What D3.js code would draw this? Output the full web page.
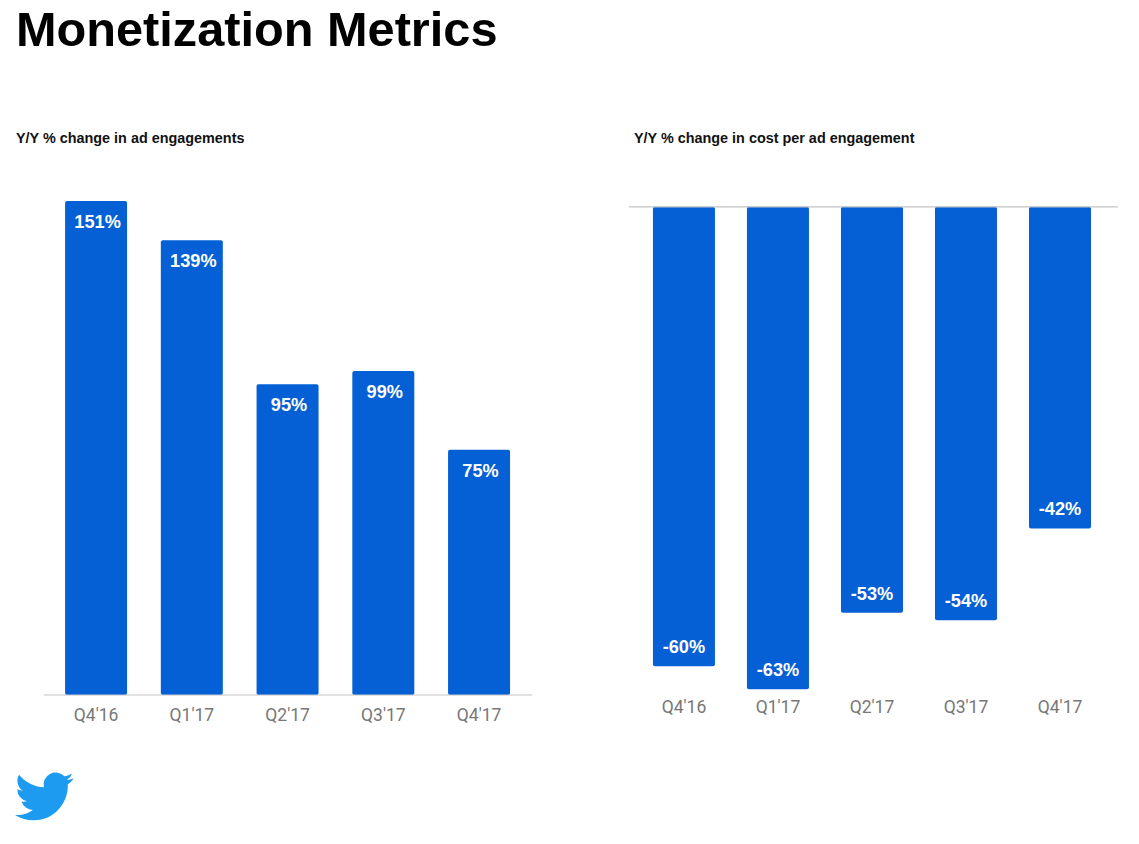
<!DOCTYPE html>
<html>
<head>
<meta charset="utf-8">
<title>Monetization Metrics</title>
<script src="https://cdnjs.cloudflare.com/ajax/libs/d3/7.8.5/d3.min.js"></script>
<style>
html, body { margin: 0; padding: 0; background: #fff; }
svg { display: block; }
text { font-family: "Liberation Sans", Arial, sans-serif; }
.page-title { font-size: 48.7px; font-weight: bold; fill: #000; }
.chart-title { font-size: 14.4px; font-weight: bold; fill: #111; }
.bar { fill: #0560d6; }
.value { font-size: 18.2px; font-weight: bold; fill: #fff; text-anchor: middle; }
.axis text { font-family: Roboto, sans-serif; font-size: 17.5px; fill: #777; }
.axis line, .axis path { stroke: none; }
.zero { stroke: #c4c4c4; stroke-width: 1.2; }
.logo { fill: #1d9bf0; }
</style>
</head>
<body>
<svg id="slide" width="1139" height="844"></svg>
<script>
var quarters = ["Q4'16", "Q1'17", "Q2'17", "Q3'17", "Q4'17"];
var engagements = [151, 139, 95, 99, 75];
var costPerEngagement = [-60, -63, -53, -54, -42];

var svg = d3.select("#slide");

svg.append("text")
    .attr("class", "page-title")
    .attr("x", 16)
    .attr("y", 46)
    .text("Monetization Metrics");

function generateBars(opts) {
    var x = d3.scaleBand()
        .domain(quarters)
        .range(opts.xRange)
        .paddingInner(opts.paddingInner)
        .paddingOuter(opts.paddingOuter)
        .align(opts.align);

    var y = d3.scaleLinear()
        .domain(opts.yDomain)
        .range(opts.yRange);

    var g = svg.append("g");

    g.append("text")
        .attr("class", "chart-title")
        .attr("x", opts.titleX)
        .attr("y", 143)
        .text(opts.title);

    var rows = d3.zip(quarters, opts.values);

    g.selectAll(".bar")
        .data(rows)
        .enter().append("rect")
        .attr("class", "bar")
        .attr("x", function(d) { return x(d[0]); })
        .attr("y", function(d) { return Math.min(y(d[1]), y(0)); })
        .attr("width", x.bandwidth())
        .attr("height", function(d) { return Math.abs(y(d[1]) - y(0)); })
        .attr("rx", 2);

    g.append("line")
        .attr("class", "zero")
        .attr("x1", opts.xRange[0])
        .attr("x2", opts.xRange[1])
        .attr("y1", y(0))
        .attr("y2", y(0));

    g.selectAll(".value")
        .data(rows)
        .enter().append("text")
        .attr("class", "value")
        .attr("x", function(d) { return x(d[0]) + x.bandwidth() / 2 + opts.labelShift; })
        .attr("y", function(d) { return d[1] > 0 ? y(d[1]) + 27 : y(d[1]) - 13; })
        .text(function(d) { return d[1] + "%"; });

    g.append("g")
        .attr("class", "axis")
        .attr("transform", "translate(0," + opts.axisY + ")")
        .call(d3.axisBottom(x).tickSize(0).tickPadding(opts.tickPadding));
}

generateBars({
    title: "Y/Y % change in ad engagements",
    titleX: 16,
    values: engagements,
    xRange: [44, 532],
    paddingInner: 0.3525,
    paddingOuter: 0.2247,
    align: 0.49,
    yDomain: [0, 151],
    yRange: [695, 201],
    axisY: 695,
    tickPadding: 13.5,
    labelShift: 1.5
});

generateBars({
    title: "Y/Y % change in cost per ad engagement",
    titleX: 634,
    values: costPerEngagement,
    xRange: [629, 1118],
    paddingInner: 0.3404,
    paddingOuter: 0.271,
    align: 0.47,
    yDomain: [0, -63],
    yRange: [206.8, 689.2],
    axisY: 689.2,
    tickPadding: 11.5,
    labelShift: 0
});

// twitter bird
svg.append("path")
    .attr("class", "logo")
    .attr("transform", "translate(15,767) scale(2.45)")
    .attr("d", "M23.953 4.57a10 10 0 01-2.825.775 4.958 4.958 0 002.163-2.723c-.951.555-2.005.959-3.127 1.184a4.92 4.92 0 00-8.384 4.482C7.69 8.095 4.067 6.13 1.64 3.162a4.822 4.822 0 00-.666 2.475c0 1.71.87 3.213 2.188 4.096a4.904 4.904 0 01-2.228-.616v.06a4.923 4.923 0 003.946 4.827 4.996 4.996 0 01-2.212.085 4.936 4.936 0 004.604 3.417 9.867 9.867 0 01-6.102 2.105c-.39 0-.779-.023-1.17-.067a13.995 13.995 0 007.557 2.209c9.053 0 13.998-7.496 13.998-13.985 0-.21 0-.42-.015-.63A9.935 9.935 0 0024 4.59z");
</script>
</body>
</html>
